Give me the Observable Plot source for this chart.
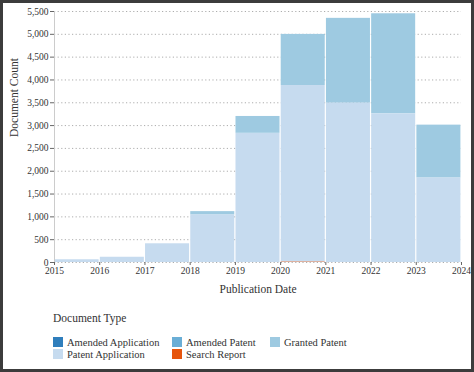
<!DOCTYPE html>
<html>
<head>
<meta charset="utf-8">
<script src="https://cdn.jsdelivr.net/npm/d3@7"></script>
<script src="https://cdn.jsdelivr.net/npm/@observablehq/plot@0.6"></script>
<style>
  html, body { margin: 0; padding: 0; background: #fff; }
  #wrap { position: relative; width: 474px; height: 372px; overflow: hidden; font-family: "Liberation Serif", serif; color: #333; }
  #frame { position: absolute; left: 0; top: 0; width: 474px; height: 372px; box-sizing: border-box; border: 3px solid #3c3c3c; pointer-events: none; }
  #chart { position: absolute; left: 0; top: 0; }
  #chart svg, #chart svg text { font-family: "Liberation Serif", serif !important; font-variant: normal !important; }
  #legend { position: absolute; left: 53px; top: 312px; }
  #legend .title { font-size: 11.5px; margin-bottom: 12px; }
  #legend .items { display: grid; grid-template-columns: 119px 98px 120px; row-gap: 0px; }
  #legend .item { display: flex; align-items: center; font-size: 10.5px; height: 12px; white-space: nowrap; font-family: "Liberation Serif", serif; }
  #legend .sw { width: 10px; height: 10px; margin-right: 4px; box-sizing: border-box; }
</style>
</head>
<body>
<div id="wrap">
  <div id="chart"></div>
  <div id="legend"></div>
  <div id="frame"></div>
</div>
<script>
// ---- Data ----
const years = [2015, 2016, 2017, 2018, 2019, 2020, 2021, 2022, 2023];
const types = ["Amended Application", "Amended Patent", "Granted Patent", "Patent Application", "Search Report"];
const colors = ["#2f7ebc", "#6aaed6", "#9ecae1", "#c6dbef", "#e6550d"];
const stackOrder = ["Search Report", "Patent Application", "Granted Patent", "Amended Patent", "Amended Application"];
const amendedApplication = [0, 0, 0, 0, 0, 0, 0, 0, 0];
const amendedPatent = [0, 0, 0, 0, 0, 0, 0, 0, 0];
const grantedPatent = [0, 0, 0, 75, 370, 1120, 1860, 2190, 1160];
const patentApplication = [60, 115, 410, 1040, 2830, 3870, 3490, 3260, 1850];
const searchReport = [0, 0, 0, 0, 0, 8, 0, 0, 0];
const xTicks = [2015, 2016, 2017, 2018, 2019, 2020, 2021, 2022, 2023, 2024];
const yTicks = [0, 500, 1000, 1500, 2000, 2500, 3000, 3500, 4000, 4500, 5000, 5500];

const series = {
  "Amended Application": amendedApplication,
  "Amended Patent": amendedPatent,
  "Granted Patent": grantedPatent,
  "Patent Application": patentApplication,
  "Search Report": searchReport
};
const rows = [];
years.forEach((yr, i) => {
  types.forEach(t => rows.push({year: yr, type: t, value: series[t][i]}));
});

const serif = "Liberation Serif";
const fmtComma = d3.format(",");

const chart = Plot.plot({
  width: 474,
  height: 300,
  marginLeft: 54,
  marginRight: 13,
  marginTop: 11,
  marginBottom: 38,
  style: {fontFamily: serif, fontSize: "9.5px", color: "#333", background: "transparent"},
  x: {domain: [2015, 2024]},
  y: {domain: [0, 5500]},
  color: {domain: types, range: colors},
  marks: [
    Plot.gridY(yTicks, {stroke: "#999", strokeOpacity: 0.8, strokeDasharray: "1.2,2.4"}),
    Plot.rectY(rows, {x1: "year", x2: d => d.year + 1, y: "value", fill: "type", order: stackOrder, insetLeft: 0.6, insetRight: 0.6}),
    Plot.ruleX([2015], {y1: 0, y2: 5500, stroke: "#ccc"}),
    Plot.axisX(xTicks, {tickFormat: d => String(d), tickSize: 3, tickPadding: 2, label: null, stroke: "#666", fontFamily: serif, fontSize: 9.5, fill: "#333"}),
    Plot.axisY(yTicks, {tickFormat: d => fmtComma(d), tickSize: 4, tickPadding: 2, label: null, stroke: "#666", fontFamily: serif, fontSize: 9.5, fill: "#333"}),
    Plot.text(["Publication Date"], {text: d => d, frameAnchor: "bottom", dy: 30, fontSize: 11.5, fontFamily: serif, fill: "#333"}),
    Plot.text(["Document Count"], {text: d => d, frameAnchor: "left", dx: -40, rotate: -90, fontSize: 11.5, fontFamily: serif, fill: "#333"})
  ]
});
document.getElementById("chart").appendChild(chart);

// ---- Legend ----
const legend = document.getElementById("legend");
const title = document.createElement("div");
title.className = "title";
title.textContent = "Document Type";
legend.appendChild(title);
const items = document.createElement("div");
items.className = "items";
types.forEach((t, i) => {
  const it = document.createElement("div");
  it.className = "item";
  const sw = document.createElement("span");
  sw.className = "sw";
  sw.style.background = colors[i];
  const lb = document.createElement("span");
  lb.textContent = t;
  it.appendChild(sw);
  it.appendChild(lb);
  items.appendChild(it);
});
legend.appendChild(items);
</script>
</body>
</html>
